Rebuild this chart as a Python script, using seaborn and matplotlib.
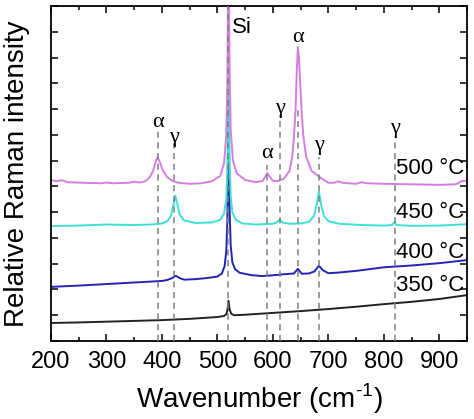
import pandas as pd
import seaborn as sns
import matplotlib.pyplot as plt
from matplotlib.ticker import MultipleLocator

# Raman spectra (wavenumber in cm-1, intensity in arbitrary offset units)
wn_350 = [200, 250, 300, 350, 400, 450, 500, 512, 516, 518, 520, 522, 525, 530, 550, 600, 650, 700, 750, 800, 850, 900, 950]
i_350 = [0.70, 0.72, 0.75, 0.78, 0.81, 0.86, 0.93, 0.97, 1.04, 1.18, 1.56, 1.22, 1.06, 1.00, 1.02, 1.09, 1.16, 1.24, 1.33, 1.43, 1.52, 1.63, 1.78]

wn_400 = [200, 250, 300, 350, 400, 410, 418, 425, 432, 440, 460, 480, 500, 508, 513, 516, 518, 520, 522, 524, 527, 532, 540, 560,
          580, 600, 620, 638, 645, 652, 665, 675, 683, 690, 700, 720, 750, 800, 850, 900, 950]
i_400 = [2.10, 2.15, 2.21, 2.27, 2.33, 2.37, 2.44, 2.53, 2.44, 2.38, 2.40, 2.44, 2.50, 2.62, 2.90, 3.50, 4.70, 9.60, 5.10, 3.70, 3.05, 2.78, 2.65, 2.56,
         2.52, 2.55, 2.59, 2.62, 2.80, 2.61, 2.62, 2.70, 2.92, 2.75, 2.63, 2.66, 2.72, 2.86, 2.93, 3.02, 3.14]

wn_450 = [200, 250, 300, 350, 380, 400, 410, 416, 420, 424, 428, 432, 440, 460, 490, 505, 512, 516, 518, 520, 522, 524, 527, 533, 545,
          570, 600, 607, 612, 617, 630, 650, 665, 674, 679, 683, 687, 692, 700, 720, 760, 800, 815, 819, 823, 850, 900, 950]
i_450 = [4.46, 4.48, 4.52, 4.50, 4.52, 4.56, 4.65, 4.85, 5.20, 5.64, 5.30, 4.90, 4.68, 4.58, 4.60, 4.70, 4.95, 5.50, 6.50, 10.40, 7.00, 5.60, 5.00, 4.70, 4.56,
         4.52, 4.55, 4.60, 4.72, 4.60, 4.55, 4.56, 4.62, 4.85, 5.30, 5.80, 5.30, 4.85, 4.65, 4.55, 4.50, 4.48, 4.50, 4.62, 4.50, 4.47, 4.48, 4.53]

wn_500 = [200, 210, 220, 230, 260, 290, 300, 310, 340, 350, 360, 370, 378, 384, 388, 392, 396, 402, 410, 420, 430, 450, 470, 490,
          505, 512, 516, 518, 520, 522, 524, 528, 535, 550, 570, 582, 587, 590, 594, 600, 608, 620, 630, 635, 638, 641, 643, 645,
          647, 649, 652, 655, 660, 670, 685, 700, 710, 718, 725, 750, 760, 770, 800, 850, 900, 930, 940, 950]
i_500 = [6.24, 6.20, 6.24, 6.16, 6.14, 6.12, 6.15, 6.12, 6.14, 6.18, 6.15, 6.20, 6.35, 6.60, 6.90, 7.14, 6.95, 6.60, 6.35, 6.20, 6.14, 6.10, 6.12, 6.20,
         6.40, 6.90, 8.00, 10.00, 16.00, 10.50, 8.20, 7.00, 6.50, 6.25, 6.16, 6.22, 6.40, 6.52, 6.38, 6.22, 6.20, 6.30, 6.60, 7.15, 7.90, 9.00, 10.40, 11.40,
         11.00, 10.10, 8.80, 7.95, 7.15, 6.60, 6.35, 6.14, 6.14, 6.20, 6.14, 6.10, 6.16, 6.12, 6.10, 6.08, 6.06, 6.08, 6.20, 6.22]

temps = ["350 °C", "400 °C", "450 °C", "500 °C"]
colors = ["#222222", "#2424b4", "#3ee0d6", "#d47ee0"]

# peak assignments
peak_pos = [393, 422, 520, 590, 612, 645, 683, 820]
peak_lab = ["α", "γ", "Si", "α", "γ", "α", "γ", "γ"]
line_top = [8.18, 7.67, 13.0, 6.82, 8.76, 8.95, 7.13, 7.87]
lab_y = [8.49, 7.90, 12.17, 7.29, 9.03, 11.78, 7.60, 8.26]

temp_y = [2.17, 3.45, 5.0, 6.7]

frames = []
for t, w, i in zip(temps, [wn_350, wn_400, wn_450, wn_500], [i_350, i_400, i_450, i_500]):
    frames.append(pd.DataFrame({"wn": w, "I": i, "T": t}))
df = pd.concat(frames)

sns.set_style("ticks")
plt.rcParams['font.family'] = ['Liberation Sans', 'DejaVu Sans']
plt.rcParams['mathtext.fontset'] = 'custom'
plt.rcParams['mathtext.rm'] = 'Liberation Sans'
plt.rcParams['text.color'] = 'black'
plt.rcParams['axes.labelcolor'] = 'black'
plt.rcParams['xtick.color'] = 'black'
plt.rcParams['ytick.color'] = 'black'

fig = plt.figure(figsize=(4.74, 4.19), dpi=100)
ax = fig.add_axes([51/474, 1-341/419, 416/474, 335/419])

sns.lineplot(data=df, x="wn", y="I", hue="T", palette=colors, hue_order=temps,
             linewidth=1.4, legend=False, ax=ax, estimator=None)

# dashed marker lines + labels
ax.vlines(peak_pos, 0, line_top, colors="#7f7f7f", linestyles=(0, (4, 3)), linewidth=1.1, zorder=3)
for x, lab, y in zip(peak_pos, peak_lab, lab_y):
    if lab == "Si":
        ax.text(x + 6, y, lab, fontsize=16, ha="left", va="center")
    else:
        ax.text(x, y, lab, fontsize=16, ha="center", va="center", family=["Liberation Serif", "DejaVu Serif"])

for t, y in zip(temps, temp_y):
    ax.text(945, y, t, fontsize=16, ha="right", va="center")

ax.set_xlim(200, 950)
ax.set_ylim(0, 13)
ax.xaxis.set_major_locator(MultipleLocator(100))
ax.xaxis.set_minor_locator(MultipleLocator(50))
ax.yaxis.set_major_locator(MultipleLocator(1))
ax.set_yticklabels([])
ax.tick_params(which="both", direction="in", top=True, right=True, width=1.1, labelsize=17, pad=7)
ax.tick_params(which="major", length=5)
ax.tick_params(which="minor", length=3)
for s in ax.spines.values():
    s.set_linewidth(1.3)
    s.set_color("black")

ax.set_xlabel("Wavenumber (cm$^{\\mathrm{\u2010}1}$)", fontsize=20)
ax.set_ylabel("Relative Raman intensity", fontsize=20)
ax.xaxis.set_label_coords(0.5, -0.12)
ax.yaxis.set_label_coords(-0.05, 0.5)

plt.savefig("out.png", dpi=100)
